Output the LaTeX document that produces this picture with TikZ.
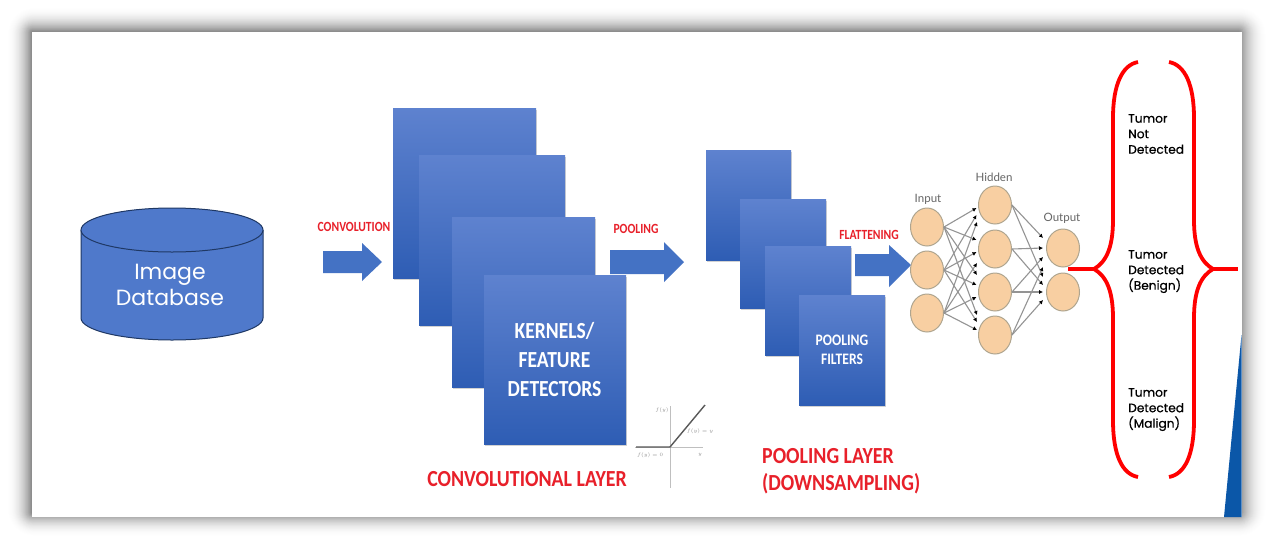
\documentclass[tikz,border=0pt]{standalone}
\usepackage{fontspec}
\setmainfont{Carlito}
\newfontfamily\gothic[FakeBold=0.5]{Poppins}
\newfontfamily\gothiclight{Poppins}
\newfontfamily\humansans{Lato}
\usetikzlibrary{shadows,arrows.meta,shapes.geometric}
\definecolor{boxtop}{HTML}{5E82CF}
\definecolor{boxbot}{HTML}{2E5DB4}
\definecolor{arrowblue}{HTML}{4472C4}
\definecolor{cyl}{HTML}{4F79CB}
\definecolor{cyledge}{HTML}{1F3864}
\definecolor{peach}{HTML}{F8CFA2}
\definecolor{peachedge}{HTML}{AFA58F}
\definecolor{redlab}{HTML}{E8202A}
\definecolor{wedge}{HTML}{0B57A8}
\tikzset{
  bluebox/.style={rectangle,inner sep=0pt,top color=boxtop,bottom color=boxbot,draw=none,
     drop shadow={opacity=.35,shadow xshift=1pt,shadow yshift=-1.5pt}},
  boxlabel/.style={text=white,font=\bfseries,align=center,inner sep=0pt},
  redlabel/.style={text=redlab,font=\bfseries,inner sep=0pt},
  neuron/.style={ellipse,draw=peachedge,line width=1pt,fill=peach,minimum width=33pt,minimum height=38pt,inner sep=0pt},
  nnlabel/.style={text=black!60,font=\humansans\fontsize{11.5}{13}\selectfont,inner sep=0pt},
  link/.style={draw=black!42,line width=1.1pt,-{Latex[black,length=4pt,width=4.2pt]}},
  tumor/.style={font=\gothic\fontsize{12.2}{15.5}\selectfont,align=left,anchor=north west,inner sep=0pt,text=black},
  redbrace/.style={draw=red,line width=3.8pt,line cap=butt},
  tiny/.style={text=black!45,font=\itshape\fontsize{4.5}{5}\selectfont,inner sep=0pt},
  blockarrow/.style={fill=arrowblue,draw=none},
}
\begin{document}
\begin{tikzpicture}[x=1pt,y=-1pt]
\useasboundingbox (0,0) rectangle (1275,550);
\fill[white] (0,0) rectangle (1275,550);
% slide shadow: nested rings, outermost first
\foreach \i in {27,26,...,1}{
  \pgfmathsetmacro{\p}{48*(1-\i/28)*(1-\i/28)}
  \fill[black!\p,rounded corners=\i pt] ({32-\i*0.9},{32-\i*0.9}) rectangle ({1239+\i},{513+\i*0.85});
}
\fill[white] (32,32) rectangle (1242,517);
\fill[wedge] (1241.5,335) -- (1241.5,517) -- (1224,517) -- cycle;

% database
\fill[cyl] (81,230) arc[x radius=91,y radius=22,start angle=180,end angle=360] -- (263,318)
   arc[x radius=91,y radius=22,start angle=0,end angle=180] -- cycle;
\draw[cyledge,line width=1pt] (81,230) -- (81,318) arc[x radius=91,y radius=22,start angle=180,end angle=0] -- (263,230);
\draw[cyledge,line width=1pt,fill=cyl] (172,230) ellipse[x radius=91,y radius=22];
\node[text=white,font=\gothiclight\fontsize{22}{26}\selectfont,align=center,inner sep=0pt] (dbtext) at (170,285) {Image\\Database};

% block arrows
\fill[blockarrow] (323,251) -- (362,251) -- (362,243) -- (382,262) -- (362,281) -- (362,273) -- (323,273) -- cycle;
\fill[blockarrow] (610,250) -- (664,250) -- (664,242) -- (684,262) -- (664,282) -- (664,274) -- (610,274) -- cycle;
\fill[blockarrow] (855,254) -- (889,254) -- (889,245) -- (911,265) -- (889,287) -- (889,276) -- (855,276) -- cycle;

% convolution stack
\node[bluebox,minimum width=143pt,minimum height=170pt] (c1) at (464.5,193) {};
\node[bluebox,minimum width=146pt,minimum height=170pt] (c2) at (492,240) {};
\node[bluebox,minimum width=143pt,minimum height=170pt] (c3) at (523.5,302) {};
\node[bluebox,minimum width=142pt,minimum height=169pt] (c4) at (555,359.5) {};
\node[boxlabel,font=\bfseries\fontsize{23}{29}\selectfont] (c4t) at (554.5,360) {\scalebox{.85}[1]{KERNELS/}\\\scalebox{.85}[1]{FEATURE}\\\scalebox{.85}[1]{DETECTORS}};

% pooling stack
\node[bluebox,minimum width=85pt,minimum height=110pt] (p1) at (748.5,205) {};
\node[bluebox,minimum width=86pt,minimum height=109pt] (p2) at (783,253.5) {};
\node[bluebox,minimum width=86pt,minimum height=109pt] (p3) at (808,300.5) {};
\node[bluebox,minimum width=86pt,minimum height=110pt] (p4) at (842,350) {};
\node[boxlabel,font=\bfseries\fontsize{16}{19}\selectfont] (p4t) at (842,350) {\scalebox{.85}[1]{POOLING}\\\scalebox{.85}[1]{FILTERS}};

% labels
\node[redlabel,font=\bfseries\fontsize{14}{15}\selectfont] (lconv) at (354,227) {\scalebox{.83}[1]{CONVOLUTION}};
\node[redlabel,font=\bfseries\fontsize{14}{15}\selectfont] (lpool) at (636,229) {\scalebox{.83}[1]{POOLING}};
\node[redlabel,font=\bfseries\fontsize{14}{15}\selectfont] (lflat) at (869,235) {\scalebox{.83}[1]{FLATTENING}};
\node[redlabel,font=\bfseries\fontsize{23}{28}\selectfont] (lconvlayer) at (527,479) {\scalebox{.865}[1]{CONVOLUTIONAL LAYER}};
\node[redlabel,font=\bfseries\fontsize{23}{28}\selectfont,anchor=west] (lpoolA) at (762,456) {\scalebox{.865}[1]{POOLING LAYER}};
\node[redlabel,font=\bfseries\fontsize{23}{28}\selectfont,anchor=west] (lpoolB) at (762,484) {\scalebox{.865}[1]{(DOWNSAMPLING)}};

% activation plot
\draw[black!25,line width=.8pt] (635,447) -- (703,447);
\draw[black!25,line width=.8pt] (670,406) -- (670,488);
\draw[black!65,line width=1.4pt] (636,447) -- (670,447) -- (705,405);
\node[tiny] (fa) at (662,410) {$f(y)$};
\node[tiny] (fb) at (700,431) {$f(y)=y$};
\node[tiny] (fc) at (650,455) {$f(y)=0$};
\node[tiny] (fd) at (700,455) {$y$};

% network
\foreach \n/\y/\x in {h1a/208/976.5,h1b/215/976.5,h1c/222/977,h2a/240/976.5,h2b/252/976.5,h2c/263/977,h3a/275/977,h3b/285/976.5,h3c/297/976.5,h4a/315/977,h4b/322/977,h4c/330/977,
   o1a/238/1043,o1b/248/1043,o1c/257/1043,o1d/267/1043,o2a/277/1043,o2b/285/1043,o2c/292/1043,o2d/300/1043}{
  \coordinate (\n) at (\x,\y);
}
\foreach \n/\x/\y in {i1/927/227,i2/927/270,i3/927/313,h1/995/205,h2/995/249,h3/995/292,h4/995/335,o1/1063/248,o2/1063/292}{
  \node[neuron] (\n) at (\x,\y) {};
}
\foreach \a/\s in {i1/a,i2/b,i3/c}{\foreach \b in {h1,h2,h3,h4}{\draw[link] (\a.east) -- (\b\s);}}
\foreach \a/\s in {h1/a,h2/b,h3/c,h4/d}{\foreach \b in {o1,o2}{\draw[link] (\a.east) -- (\b\s);}}
\node[nnlabel] (ninput) at (928,199) {Input};
\node[nnlabel] (nhidden) at (994,177) {Hidden};
\node[nnlabel] (noutput) at (1062,218) {Output};

% braces
\draw[redbrace] (1138,62) .. controls (1122,65) and (1113,85) .. (1113,118) -- (1113,220)
  .. controls (1113,248) and (1106,262) .. (1094,269) .. controls (1106,276) and (1113,290) .. (1113,318)
  -- (1113,420) .. controls (1113,455) and (1122,474) .. (1138,477);
\draw[redbrace,line width=4.6pt] (1068,269) -- (1096,269);
\draw[redbrace] (1169,62) .. controls (1185,65) and (1194,85) .. (1194,118) -- (1194,220)
  .. controls (1194,248) and (1201,262) .. (1213,269) .. controls (1201,276) and (1194,290) .. (1194,318)
  -- (1194,420) .. controls (1194,455) and (1185,474) .. (1169,477);
\draw[redbrace,line width=4.6pt] (1211,269) -- (1238,269);

% outcomes
\node[tumor] (t1) at (1128,114) {Tumor\\Not\\Detected};
\node[tumor] (t2) at (1128,250) {Tumor\\Detected\\(Benign)};
\node[tumor] (t3) at (1128,388) {Tumor\\Detected\\(Malign)};
\end{tikzpicture}
\end{document}
